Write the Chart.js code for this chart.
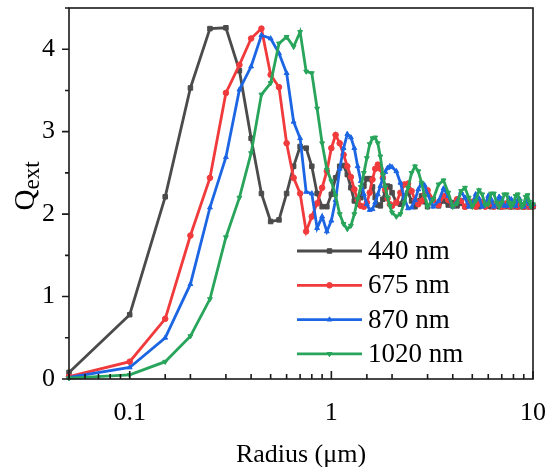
<!DOCTYPE html>
<html>
<head>
<meta charset="utf-8">
<script src="https://cdn.jsdelivr.net/npm/chart.js@4/dist/chart.umd.min.js"></script>
<style>
    html, body { margin: 0; padding: 0; background: #fff; }
    #wrap { width: 550px; height: 467px; position: relative; }
</style>
</head>
<body>
<div id="wrap"><canvas id="qextChart"></canvas></div>
<script>
// radius grid (µm)
const radius = [
    0.05, 0.1, 0.15, 0.2, 0.25, 0.3, 0.35, 0.4, 0.45, 0.5,
    0.55, 0.6, 0.65, 0.7, 0.75, 0.8, 0.85, 0.9, 0.95, 1.0,
    1.05, 1.1, 1.15, 1.2, 1.25, 1.3, 1.35, 1.4, 1.45, 1.5,
    1.55, 1.6, 1.65, 1.7, 1.75, 1.8, 1.85, 1.9, 1.95, 2.0,
    2.1, 2.2, 2.3, 2.4, 2.5, 2.6, 2.7, 2.8, 2.9, 3.0,
    3.2, 3.4, 3.6, 3.8, 4.0, 4.2, 4.4, 4.6, 4.8, 5.0,
    5.2, 5.4, 5.6, 5.8, 6.0, 6.2, 6.4, 6.6, 6.8, 7.0,
    7.2, 7.4, 7.6, 7.8, 8.0, 8.2, 8.4, 8.6, 8.8, 9.0,
    9.2, 9.4, 9.6, 9.8, 10.0
];

const seriesLabels = ['440 nm', '675 nm', '870 nm', '1020 nm'];

const q440 = [
    0.08, 0.78, 2.21, 3.53, 4.25, 4.26, 3.74, 2.92, 2.25, 1.91,
    1.93, 2.25, 2.58, 2.82, 2.80, 2.58, 2.25, 2.09, 2.09, 2.24,
    2.44, 2.58, 2.59, 2.48, 2.32, 2.16, 2.12, 2.20, 2.34, 2.43,
    2.43, 2.33, 2.20, 2.11, 2.10, 2.18, 2.28, 2.34, 2.33, 2.26,
    2.14, 2.12, 2.22, 2.26, 2.16, 2.09, 2.16, 2.22, 2.15, 2.09,
    2.18, 2.10, 2.16, 2.11, 2.14, 2.10, 2.13, 2.09, 2.12, 2.10,
    2.11, 2.09, 2.11, 2.10, 2.10, 2.09, 2.10, 2.10, 2.09, 2.10,
    2.09, 2.10, 2.09, 2.09, 2.10, 2.09, 2.09, 2.10, 2.09, 2.09,
    2.09, 2.10, 2.09, 2.09, 2.09
];

const q675 = [
    0.03, 0.21, 0.73, 1.74, 2.44, 3.47, 3.81, 4.13, 4.25, 3.69,
    3.54, 2.86, 2.44, 2.25, 1.79, 1.97, 2.13, 2.32, 2.52, 2.80,
    2.96, 2.86, 2.72, 2.58, 2.45, 2.30, 2.17, 2.10, 2.09, 2.14,
    2.26, 2.42, 2.55, 2.60, 2.55, 2.44, 2.30, 2.19, 2.12, 2.10,
    2.14, 2.26, 2.36, 2.37, 2.28, 2.17, 2.12, 2.16, 2.24, 2.29,
    2.17, 2.11, 2.22, 2.17, 2.10, 2.18, 2.16, 2.09, 2.15, 2.15,
    2.09, 2.13, 2.15, 2.09, 2.12, 2.14, 2.09, 2.11, 2.13, 2.09,
    2.10, 2.13, 2.10, 2.09, 2.12, 2.11, 2.09, 2.11, 2.11, 2.09,
    2.10, 2.11, 2.09, 2.09, 2.10
];

const q870 = [
    0.02, 0.14, 0.50, 1.15, 2.08, 2.69, 3.51, 3.79, 4.17, 4.13,
    3.95, 3.71, 3.12, 2.92, 2.27, 2.25, 1.83, 1.97, 1.79, 1.92,
    2.17, 2.55, 2.80, 2.97, 2.93, 2.80, 2.58, 2.40, 2.24, 2.12,
    2.05, 2.06, 2.14, 2.24, 2.34, 2.44, 2.51, 2.56, 2.58, 2.57,
    2.52, 2.38, 2.20, 2.07, 2.08, 2.17, 2.30, 2.38, 2.35, 2.24,
    2.09, 2.16, 2.31, 2.22, 2.09, 2.15, 2.27, 2.20, 2.09, 2.13,
    2.24, 2.19, 2.09, 2.12, 2.22, 2.18, 2.09, 2.12, 2.21, 2.18,
    2.10, 2.10, 2.19, 2.18, 2.11, 2.10, 2.17, 2.18, 2.11, 2.09,
    2.15, 2.18, 2.12, 2.09, 2.12
];

const q1020 = [
    0.01, 0.05, 0.21, 0.52, 0.97, 1.72, 2.20, 2.74, 3.45, 3.59,
    4.07, 4.15, 4.03, 4.21, 3.73, 3.71, 3.28, 2.86, 2.54, 2.40,
    2.22, 2.00, 1.88, 1.82, 1.86, 2.00, 2.18, 2.33, 2.50, 2.68,
    2.85, 2.92, 2.93, 2.86, 2.70, 2.48, 2.33, 2.20, 2.10, 2.02,
    1.97, 2.00, 2.14, 2.32, 2.50, 2.58, 2.52, 2.38, 2.22, 2.09,
    2.18, 2.36, 2.41, 2.26, 2.09, 2.13, 2.28, 2.32, 2.20, 2.09,
    2.16, 2.29, 2.24, 2.11, 2.12, 2.25, 2.25, 2.14, 2.09, 2.14,
    2.24, 2.24, 2.14, 2.09, 2.13, 2.22, 2.24, 2.16, 2.09, 2.12,
    2.21, 2.23, 2.15, 2.09, 2.12
];

const xMajorLabels = [0.1, 1, 10];
const yMajorLabels = [0, 1, 2, 3, 4];

document.addEventListener('DOMContentLoaded', function() {
    const SERIF = '"Liberation Serif", "Times New Roman", serif';
    const colors = ['#4b4b4b', '#f03a3c', '#1c66e4', '#28a55b'];
    const styles = ['rect', 'circle', 'triangle', 'triangle'];
    const rotations = [0, 0, 0, 180];
    const allSeries = [q440, q675, q870, q1020];

    const datasets = allSeries.map((vals, i) => ({
        label: seriesLabels[i],
        data: vals.map((v, k) => ({ x: radius[k], y: v })),
        borderColor: colors[i],
        backgroundColor: colors[i],
        borderWidth: 2.8,
        pointStyle: styles[i],
        rotation: rotations[i],
        pointRadius: styles[i] === 'rect' ? 3.2 : 2.8,
        pointBorderWidth: 1,
        tension: 0,
        clip: false,
        order: 4 - i // green on top
    }));

    // frame, inward/outward ticks, y title and legend
    const decorations = {
        id: 'decorations',
        afterDraw(chart) {
            const ctx = chart.ctx;
            const area = chart.chartArea;
            const xs = chart.scales.x;
            const ys = chart.scales.y;
            ctx.save();
            ctx.strokeStyle = '#1a1a1a';
            ctx.lineWidth = 1.6;
            ctx.strokeRect(area.left, area.top, area.right - area.left, area.bottom - area.top);

            ctx.beginPath();
            xs.ticks.forEach(t => {
                const px = xs.getPixelForValue(t.value);
                const len = xMajorLabels.includes(t.value) ? 8 : 5;
                ctx.moveTo(px, area.bottom);
                ctx.lineTo(px, area.bottom - len);
            });
            ys.ticks.forEach(t => {
                const py = ys.getPixelForValue(t.value);
                const len = yMajorLabels.includes(t.value) ? 7 : 4;
                ctx.moveTo(area.left - len, py);
                ctx.lineTo(area.left, py);
            });
            ctx.stroke();

            // Q_ext
            ctx.fillStyle = '#000';
            ctx.translate(34, 186);
            ctx.rotate(-Math.PI / 2);
            ctx.textBaseline = 'alphabetic';
            ctx.textAlign = 'left';
            ctx.font = '29px ' + SERIF;
            const wQ = ctx.measureText('Q').width;
            ctx.font = '23px ' + SERIF;
            const wS = ctx.measureText('ext').width;
            const start = -(wQ + wS) / 2;
            ctx.font = '29px ' + SERIF;
            ctx.fillText('Q', start, 0);
            ctx.font = '23px ' + SERIF;
            ctx.fillText('ext', start + wQ, 5);
            ctx.restore();

            // legend
            ctx.save();
            chart.data.datasets.forEach((ds, i) => {
                const y = 251 + i * 34.3;
                ctx.strokeStyle = ds.borderColor;
                ctx.fillStyle = ds.backgroundColor;
                ctx.lineWidth = 2.8;
                ctx.beginPath();
                ctx.moveTo(297, y);
                ctx.lineTo(362, y);
                ctx.stroke();
                ctx.lineWidth = 1;
                Chart.helpers.drawPoint(ctx, {
                    pointStyle: ds.pointStyle,
                    radius: ds.pointRadius,
                    rotation: ds.rotation,
                    borderWidth: 1
                }, 329.5, y);
                ctx.fillStyle = '#000';
                ctx.font = '27px ' + SERIF;
                ctx.textBaseline = 'middle';
                ctx.textAlign = 'left';
                ctx.fillText(ds.label, 368, y + 1);
            });
            ctx.restore();
        }
    };

    new Chart(document.getElementById('qextChart'), {
        type: 'line',
        data: { datasets: datasets },
        options: {
            responsive: true,
            maintainAspectRatio: false,
            animation: false,
            layout: { autoPadding: false, padding: { left: 0, right: 17, top: 8, bottom: 0 } },
            plugins: {
                legend: { display: false },
                tooltip: { enabled: false }
            },
            scales: {
                x: {
                    type: 'logarithmic',
                    min: 0.05,
                    max: 10,
                    grid: { display: false, drawTicks: false },
                    border: { display: false },
                    afterFit: s => {
                        s.height = 88;
                        s.paddingLeft = 0;
                        s.paddingRight = 0;
                    },
                    ticks: {
                        autoSkip: false,
                        maxRotation: 0,
                        padding: 19,
                        color: '#000',
                        font: { family: SERIF, size: 26 },
                        callback: v => xMajorLabels.includes(v) ? String(v) : ''
                    },
                    title: {
                        display: true,
                        text: 'Radius (μm)',
                        color: '#000',
                        font: { family: SERIF, size: 26 },
                        padding: { top: 0, bottom: -4 }
                    }
                },
                y: {
                    min: 0,
                    max: 4.5,
                    grid: { display: false, drawTicks: false },
                    border: { display: false },
                    afterFit: s => {
                        s.width = 69;
                        s.paddingTop = 0;
                        s.paddingBottom = 0;
                    },
                    ticks: {
                        stepSize: 0.5,
                        padding: 14,
                        color: '#000',
                        font: { family: SERIF, size: 26 },
                        callback: v => yMajorLabels.includes(v) ? String(v) : ''
                    }
                }
            }
        },
        plugins: [decorations]
    });
});
</script>
</body>
</html>
